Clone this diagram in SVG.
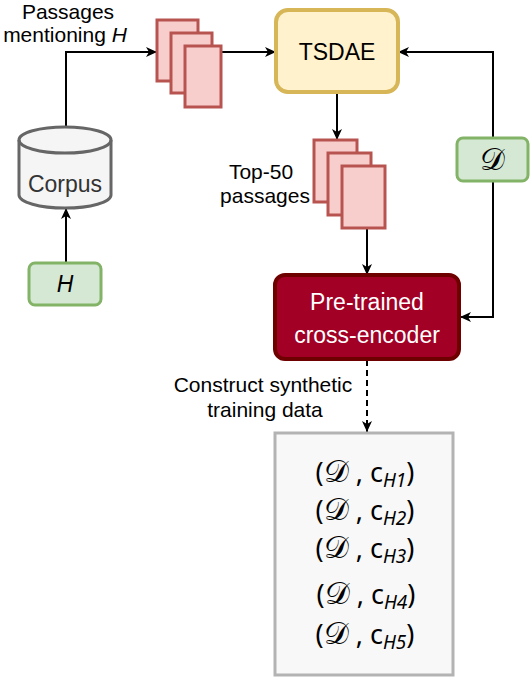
<svg xmlns="http://www.w3.org/2000/svg" width="532" height="680" viewBox="0 0 532 680">
<defs>
<marker id="arr" markerWidth="12" markerHeight="10" refX="11" refY="5" orient="auto" markerUnits="userSpaceOnUse">
<path d="M0,0 L11,5 L0,10 L3,5 Z" fill="#000"/>
</marker>
<style>
.lbl{font-family:"Liberation Sans",Arial,sans-serif;font-size:21px;fill:#000}
.nt{font-family:"Liberation Sans",Arial,sans-serif;font-size:23px;text-anchor:middle}
.page{fill:#f8cecc;stroke:#b85450;stroke-width:3}
.conn{fill:none;stroke:#000;stroke-width:2;marker-end:url(#arr)}
.green{fill:#d5e8d4;stroke:#82b366;stroke-width:3}
.row{font-family:"Noto Sans","DejaVu Sans",sans-serif;font-size:27px;text-anchor:middle;fill:#000}
.scr{font-family:"DejaVu Serif","Liberation Serif",serif;font-size:31px}
.sub{font-size:19px;font-style:italic}
</style>
</defs>
<rect width="532" height="680" fill="#fff"/>

<g id="connectors">
<path class="conn" d="M66,127 V52 H157"/>
<path class="conn" d="M221,52 H276"/>
<path class="conn" d="M337,92 V140"/>
<path class="conn" d="M493,138 V52 H398"/>
<path class="conn" d="M367,228 V275"/>
<path class="conn" d="M493,181 V317 H460"/>
<path class="conn" d="M66,263 V208"/>
<path class="conn" d="M367,360 V432" stroke-dasharray="6,4"/>
</g>

<g id="passages">
<rect class="page" x="157" y="20" width="41" height="61"/>
<rect class="page" x="171" y="33" width="41" height="60"/>
<rect class="page" x="185" y="46" width="36" height="61"/>
</g>
<g id="passages-label">
<text class="lbl" x="68" y="19" text-anchor="middle">Passages</text>
<text class="lbl" x="65" y="42" text-anchor="middle">mentioning <tspan font-style="italic">H</tspan></text>
</g>

<g id="tsdae">
<rect x="276" y="10" width="122" height="82" rx="12" fill="#fff2cc" stroke="#d6b656" stroke-width="4"/>
<text class="nt" x="337" y="60">TSDAE</text>
</g>

<g id="corpus">
<path d="M19,140 A46,13 0 0 1 111,140 V195 A46,13 0 0 1 19,195 Z" fill="#f5f5f5" stroke="#666" stroke-width="3"/>
<path d="M19,140 A46,13 0 0 0 111,140" fill="none" stroke="#666" stroke-width="3"/>
<text class="nt" x="65" y="192" fill="#333">Corpus</text>
</g>

<g id="h">
<rect class="green" x="29" y="263" width="72" height="42" rx="6"/>
<text class="nt" x="65" y="292" font-style="italic" font-size="22">H</text>
</g>

<g id="top50">
<rect class="page" x="314" y="140" width="43" height="62"/>
<rect class="page" x="328" y="153" width="43" height="62"/>
<rect class="page" x="342" y="166" width="43" height="62"/>
</g>
<g id="top50-label">
<text class="lbl" x="261" y="179" text-anchor="middle">Top-50</text>
<text class="lbl" x="265" y="203" text-anchor="middle">passages</text>
</g>

<g id="d">
<rect class="green" x="457" y="138" width="71" height="43" rx="6"/>
<text class="scr" x="492" y="170" text-anchor="middle" font-size="27">𝒟</text>
</g>

<g id="cross-encoder">
<rect x="275" y="275" width="184" height="84" rx="10" fill="#a20025" stroke="#6f0000" stroke-width="4"/>
<text class="nt" x="367" y="310" fill="#fff">Pre-trained</text>
<text class="nt" x="367" y="343" fill="#fff">cross-encoder</text>
</g>

<g id="construct-label">
<text class="lbl" x="263" y="392" text-anchor="middle">Construct synthetic</text>
<text class="lbl" x="265" y="417" text-anchor="middle">training data</text>
</g>

<g id="output">
<rect x="275" y="433" width="178" height="242" fill="#f8f8f8" stroke="#b3b3b3" stroke-width="3"/>
<text class="row" x="365" y="482">(<tspan class="scr">𝒟</tspan> , c<tspan class="sub" dy="5">H1</tspan><tspan dy="-5">)</tspan></text>
<text class="row" x="365" y="520">(<tspan class="scr">𝒟</tspan> , c<tspan class="sub" dy="5">H2</tspan><tspan dy="-5">)</tspan></text>
<text class="row" x="365" y="558">(<tspan class="scr">𝒟</tspan> , c<tspan class="sub" dy="5">H3</tspan><tspan dy="-5">)</tspan></text>
<text class="row" x="366" y="604">(<tspan class="scr">𝒟</tspan> ,  c<tspan class="sub" dy="5">H4</tspan><tspan dy="-5">)</tspan></text>
<text class="row" x="365" y="644">(<tspan class="scr">𝒟</tspan> , c<tspan class="sub" dy="5">H5</tspan><tspan dy="-5">)</tspan></text>
</g>
</svg>
